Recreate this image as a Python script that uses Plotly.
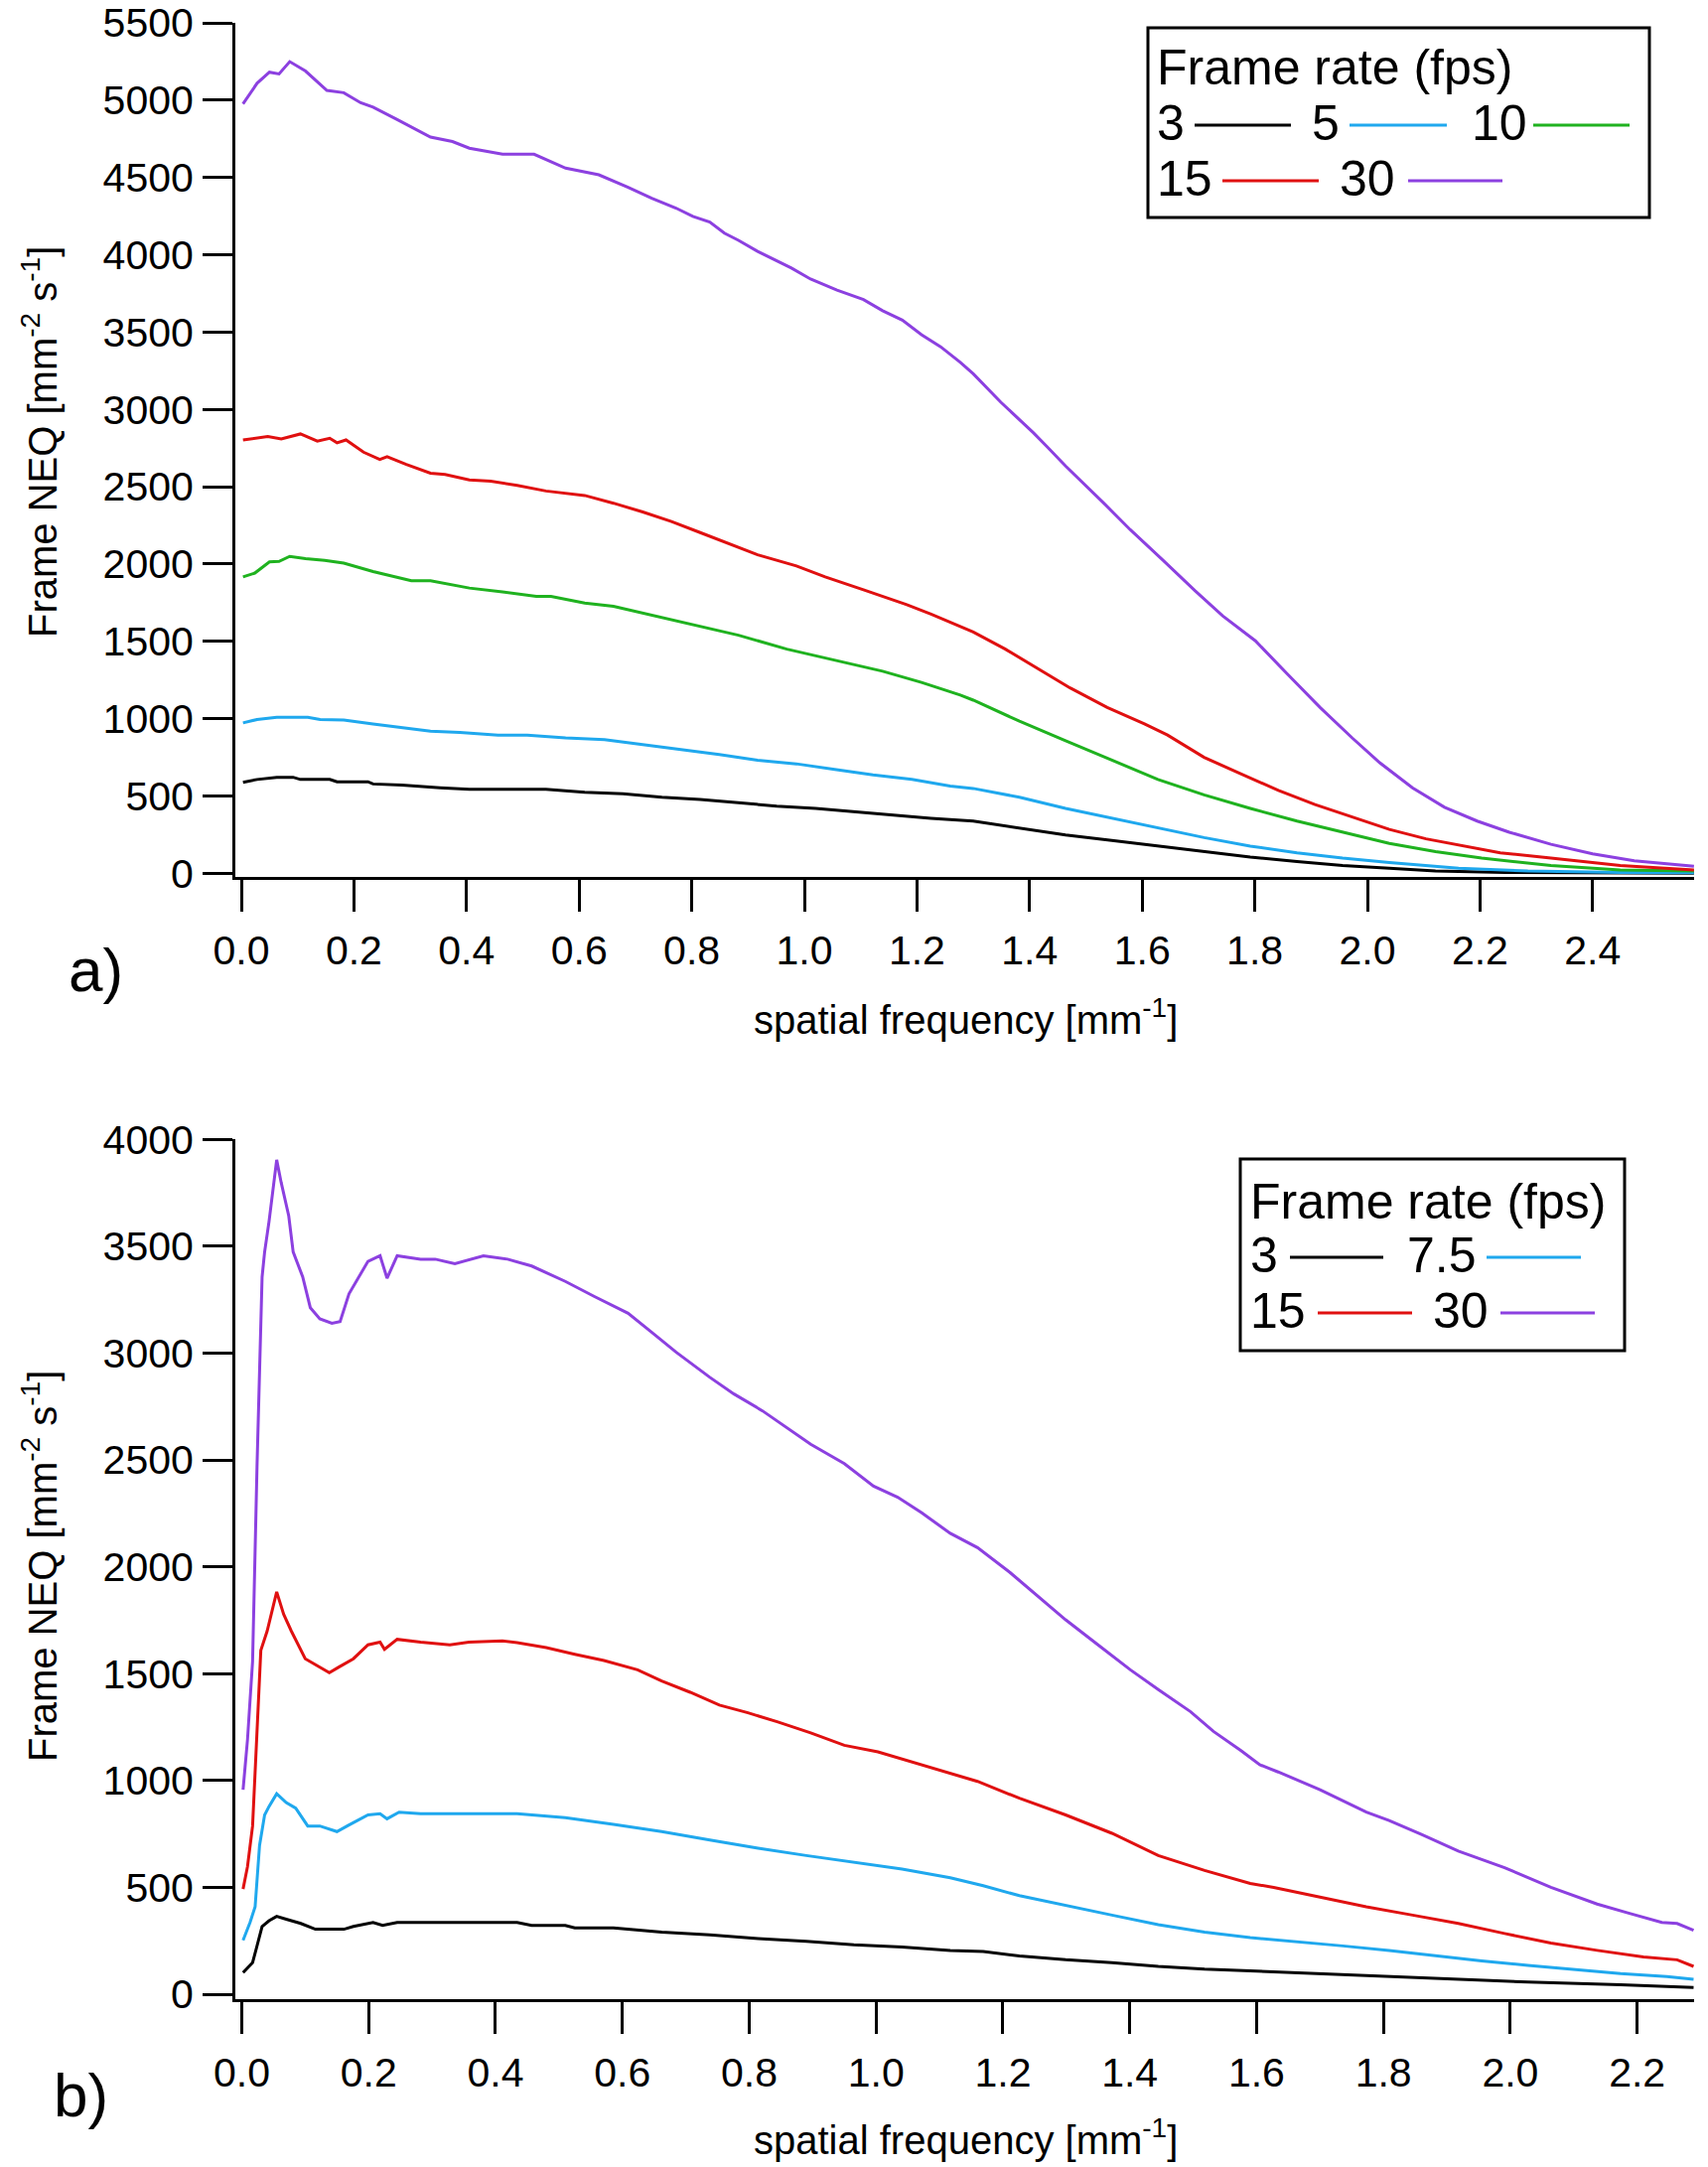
import plotly.graph_objects as go

# ---------------- data: panel a ----------------
a3_x = [0.003, 0.028, 0.063, 0.092, 0.105, 0.157, 0.170, 0.225, 0.234, 0.285, 0.353, 0.405, 0.541, 0.610, 0.678,
        0.747, 0.815, 0.883, 0.951, 1.020, 1.088, 1.156, 1.225, 1.300, 1.382, 1.464, 1.546, 1.628, 1.710, 1.792,
        1.875, 1.956, 2.039, 2.121, 2.244, 2.400, 2.580]
a3_y = [588, 606, 620, 620, 606, 606, 591, 591, 577, 570, 552, 542, 542, 524, 513,
        491, 477, 455, 434, 419, 398, 380, 355, 337, 290, 247, 212, 175, 139, 104,
        75, 50, 32, 14, 4, 2, 0]

a5_x = [0.003, 0.028, 0.063, 0.118, 0.140, 0.182, 0.234, 0.276, 0.336, 0.388, 0.456, 0.508, 0.576, 0.645, 0.713,
        0.781, 0.849, 0.917, 0.986, 1.054, 1.122, 1.191, 1.259, 1.300, 1.382, 1.464, 1.546, 1.628, 1.710, 1.792,
        1.875, 1.956, 2.039, 2.162, 2.285, 2.449, 2.580]
a5_y = [972, 994, 1008, 1008, 994, 990, 965, 947, 918, 911, 893, 893, 875, 864, 832,
        803, 767, 731, 707, 671, 635, 606, 563, 548, 491, 419, 355, 290, 230, 175,
        132, 97, 68, 32, 14, 4, 3]

a10_x = [0.003, 0.024, 0.050, 0.067, 0.086, 0.114, 0.148, 0.182, 0.234, 0.302, 0.336, 0.405, 0.464, 0.524, 0.550,
         0.610, 0.661, 0.713, 0.798, 0.883, 0.969, 1.054, 1.139, 1.208, 1.277, 1.300, 1.382, 1.464, 1.546, 1.628,
         1.710, 1.792, 1.875, 1.956, 2.039, 2.121, 2.203, 2.326, 2.449, 2.580]
a10_y = [1916, 1941, 2013, 2016, 2049, 2034, 2023, 2005, 1951, 1891, 1891, 1844, 1819, 1790, 1790,
         1747, 1726, 1682, 1611, 1539, 1449, 1377, 1306, 1234, 1152, 1119, 983, 857, 731, 606,
         506, 419, 337, 265, 193, 139, 97, 50, 21, 14]

a15_x = [0.003, 0.047, 0.071, 0.105, 0.135, 0.157, 0.170, 0.186, 0.217, 0.246, 0.259, 0.293, 0.336, 0.362, 0.405,
         0.443, 0.490, 0.541, 0.610, 0.661, 0.713, 0.764, 0.815, 0.866, 0.917, 0.986, 1.037, 1.105, 1.182, 1.225,
         1.277, 1.300, 1.357, 1.415, 1.472, 1.538, 1.604, 1.645, 1.710, 1.776, 1.842, 1.907, 1.973, 2.039, 2.104,
         2.170, 2.236, 2.326, 2.449, 2.580]
a15_y = [2802, 2824, 2809, 2841, 2795, 2813, 2784, 2802, 2723, 2676, 2694, 2644, 2587, 2579, 2543,
         2536, 2508, 2472, 2443, 2393, 2336, 2274, 2203, 2131, 2059, 1987, 1916, 1833, 1737, 1675,
         1593, 1560, 1449, 1324, 1198, 1072, 965, 893, 749, 642, 535, 444, 362, 283, 222,
         175, 132, 97, 50, 21]

a30_x = [0.003, 0.028, 0.050, 0.067, 0.086, 0.114, 0.152, 0.182, 0.212, 0.234, 0.276, 0.336, 0.375, 0.405, 0.464,
         0.520, 0.576, 0.635, 0.686, 0.729, 0.772, 0.802, 0.832, 0.858, 0.883, 0.917, 0.977, 1.011, 1.058, 1.105,
         1.139, 1.174, 1.208, 1.242, 1.277, 1.300, 1.349, 1.407, 1.431, 1.464, 1.530, 1.579, 1.637, 1.694, 1.743,
         1.801, 1.858, 1.916, 1.973, 2.022, 2.080, 2.137, 2.195, 2.252, 2.326, 2.400, 2.474, 2.580]
a30_y = [4976, 5109, 5181, 5170, 5249, 5188, 5063, 5048, 4983, 4955, 4876, 4761, 4732, 4689, 4650,
         4650, 4560, 4517, 4438, 4366, 4302, 4248, 4212, 4140, 4093, 4022, 3914, 3843, 3771, 3710,
         3638, 3577, 3483, 3405, 3304, 3230, 3046, 2848, 2759, 2633, 2400, 2221, 2024, 1826, 1664,
         1503, 1288, 1072, 875, 714, 552, 426, 337, 265, 187, 125, 80, 45]

# ---------------- data: panel b ----------------
b3_x = [0.002, 0.017, 0.024, 0.032, 0.043, 0.055, 0.070, 0.093, 0.116, 0.161, 0.176, 0.207, 0.222, 0.245, 0.434,
        0.457, 0.510, 0.525, 0.586, 0.662, 0.738, 0.814, 0.890, 0.965, 1.041, 1.117, 1.169, 1.226, 1.299, 1.372,
        1.445, 1.518, 1.590, 1.736, 1.882, 2.028, 2.174, 2.289]
b3_y = [101, 148, 226, 317, 344, 364, 351, 331, 304, 304, 317, 336, 322, 336, 336,
        322, 322, 310, 310, 291, 278, 260, 247, 231, 221, 205, 200, 179, 161, 148,
        130, 117, 109, 91, 75, 57, 44, 31]

b75_x = [0.002, 0.013, 0.021, 0.028, 0.036, 0.043, 0.055, 0.070, 0.085, 0.104, 0.123, 0.150, 0.169, 0.199, 0.218,
         0.229, 0.248, 0.282, 0.434, 0.510, 0.586, 0.662, 0.738, 0.814, 0.890, 0.965, 1.041, 1.117, 1.169, 1.226,
         1.299, 1.372, 1.445, 1.518, 1.590, 1.663, 1.736, 1.809, 1.882, 1.955, 2.028, 2.100, 2.174, 2.247, 2.289]
b75_y = [252, 336, 409, 696, 839, 879, 938, 897, 871, 787, 787, 761, 792, 839, 845,
         821, 852, 845, 845, 826, 795, 761, 722, 683, 649, 618, 586, 545, 508, 461,
         414, 370, 325, 291, 265, 247, 226, 205, 179, 156, 135, 117, 96, 83, 70]

b15_x = [0.002, 0.009, 0.017, 0.023, 0.030, 0.040, 0.055, 0.066, 0.078, 0.100, 0.116, 0.138, 0.153, 0.176, 0.199,
         0.218, 0.225, 0.245, 0.282, 0.328, 0.358, 0.411, 0.434, 0.480, 0.525, 0.571, 0.624, 0.662, 0.707, 0.753,
         0.798, 0.844, 0.897, 0.950, 1.003, 1.057, 1.110, 1.160, 1.226, 1.299, 1.372, 1.445, 1.518, 1.590, 1.627,
         1.700, 1.773, 1.846, 1.918, 1.991, 2.064, 2.137, 2.210, 2.263, 2.289]
b15_y = [492, 597, 787, 1165, 1609, 1700, 1883, 1778, 1700, 1570, 1544, 1505, 1531, 1570, 1635,
         1648, 1614, 1661, 1648, 1635, 1648, 1653, 1645, 1622, 1591, 1562, 1518, 1466, 1413, 1353,
         1317, 1275, 1223, 1165, 1134, 1087, 1040, 996, 917, 839, 753, 649, 579, 518, 500,
         456, 409, 370, 331, 284, 239, 205, 174, 161, 130]

b30_x = [0.002, 0.009, 0.017, 0.024, 0.032, 0.036, 0.043, 0.055, 0.062, 0.074, 0.081, 0.096, 0.108, 0.123, 0.142,
         0.155, 0.169, 0.184, 0.199, 0.218, 0.229, 0.245, 0.282, 0.305, 0.336, 0.381, 0.419, 0.457, 0.510, 0.556,
         0.609, 0.647, 0.685, 0.738, 0.776, 0.821, 0.852, 0.897, 0.950, 0.996, 1.034, 1.072, 1.117, 1.160, 1.211,
         1.262, 1.299, 1.350, 1.401, 1.445, 1.496, 1.532, 1.576, 1.605, 1.634, 1.700, 1.773, 1.809, 1.860, 1.918,
         1.991, 2.064, 2.137, 2.188, 2.239, 2.263, 2.289]
b30_y = [957, 1191, 1557, 2470, 3357, 3474, 3617, 3905, 3800, 3643, 3474, 3357, 3213, 3161, 3140,
         3148, 3278, 3357, 3430, 3456, 3351, 3456, 3440, 3440, 3419, 3456, 3440, 3408, 3336, 3265,
         3187, 3096, 3004, 2887, 2809, 2730, 2665, 2574, 2483, 2378, 2326, 2253, 2157, 2090, 1974,
         1844, 1752, 1635, 1518, 1426, 1322, 1230, 1139, 1074, 1040, 957, 852, 813, 748, 670,
         592, 500, 422, 378, 336, 331, 299]

# ---------------- labels ----------------
legend_a = ["3", "5", "10", "15", "30"]
legend_b = ["3", "7.5", "15", "30"]
xticks_a = [0.0, 0.2, 0.4, 0.6, 0.8, 1.0, 1.2, 1.4, 1.6, 1.8, 2.0, 2.2, 2.4]
xticks_b = [0.0, 0.2, 0.4, 0.6, 0.8, 1.0, 1.2, 1.4, 1.6, 1.8, 2.0, 2.2]
yticks_a = list(range(0, 5501, 500))
yticks_b = list(range(0, 4001, 500))

BLACK = "#000000"
BLUE = "#1fa8ee"
GREEN = "#1fb21f"
RED = "#e01010"
PURPLE = "#8c40e0"

W, H = 1720, 2182
FONT = "Arial, Liberation Sans, sans-serif"


def px(X):
    return X / W


def py(Y):
    return 1 - Y / H


fig = go.Figure()
LW = 3
series_a = [(a3_x, a3_y, BLACK), (a5_x, a5_y, BLUE), (a10_x, a10_y, GREEN), (a15_x, a15_y, RED), (a30_x, a30_y, PURPLE)]
for (xs, ys, c), name in zip(series_a, legend_a):
    fig.add_trace(go.Scatter(x=xs, y=ys, mode="lines", line=dict(color=c, width=LW), name=name,
                             xaxis="x", yaxis="y", showlegend=False))
series_b = [(b3_x, b3_y, BLACK), (b75_x, b75_y, BLUE), (b15_x, b15_y, RED), (b30_x, b30_y, PURPLE)]
for (xs, ys, c), name in zip(series_b, legend_b):
    fig.add_trace(go.Scatter(x=xs, y=ys, mode="lines", line=dict(color=c, width=LW), name=name,
                             xaxis="x2", yaxis="y2", showlegend=False))

axis_common = dict(showgrid=False, zeroline=False, showline=True, linecolor="black", linewidth=3,
                   ticks="outside", tickcolor="black", tickwidth=2.5, automargin=False,
                   ticklabeloverflow="allow",
                   tickfont=dict(family=FONT, size=41, color="black"))

TOP_A = 23.0
ZERO_A = 879.2
SCALE_A = (ZERO_A - TOP_A) / 5500

fig.update_layout(
    width=W, height=H, margin=dict(l=0, r=0, t=0, b=0, autoexpand=False),
    paper_bgcolor="white", plot_bgcolor="white", showlegend=False,
    xaxis=dict(domain=[px(237), px(1706)], range=[-6 / 567, (1706 - 243) / 567], anchor="y",
               tickvals=xticks_a, tickformat=".1f", ticklen=32, ticklabelstandoff=4, **axis_common),
    yaxis=dict(domain=[py(883), py(TOP_A)], range=[-(883 - ZERO_A) / SCALE_A, 5500], anchor="x",
               tickvals=yticks_a, tickformat="d", ticklen=30, ticklabelstandoff=1, **axis_common),
    xaxis2=dict(domain=[px(237), px(1706)], range=[-6.5 / 638.7, (1706 - 243.5) / 638.7], anchor="y2",
                tickvals=xticks_b, tickformat=".1f", ticklen=32, ticklabelstandoff=4, **axis_common),
    yaxis2=dict(domain=[py(2013), py(1147.4)], range=[-(2013 - 2008) / 0.21513, 4000], anchor="x2",
                tickvals=yticks_b, tickformat="d", ticklen=30, ticklabelstandoff=1, **axis_common),
)

annotations = []
shapes = []


def text(X, Y, s, size=40, anchor="left", angle=0):
    annotations.append(dict(x=px(X), y=py(Y), xref="paper", yref="paper", text=s, showarrow=False,
                            xanchor=anchor, yanchor="middle", textangle=angle,
                            font=dict(family=FONT, size=size, color="black")))


# axis titles
text(972, 1024, "spatial frequency [mm<sup>-1</sup>]", anchor="center")
text(972, 2152, "spatial frequency [mm<sup>-1</sup>]", anchor="center")
text(40, 445, "Frame NEQ [mm<sup>-2</sup> s<sup>-1</sup>]", anchor="center", angle=-90)
text(40, 1577, "Frame NEQ [mm<sup>-2</sup> s<sup>-1</sup>]", anchor="center", angle=-90)
# panel labels
text(96, 976, "a)", size=62, anchor="center")
text(81, 2109, "b)", size=62, anchor="center")


def legend_box(x0, y0, x1, y1):
    shapes.append(dict(type="rect", xref="paper", yref="paper", x0=px(x0), x1=px(x1), y0=py(y0), y1=py(y1),
                       line=dict(color="black", width=3), fillcolor="white", layer="above"))


def legend_item(tx, ty, label, lx0, lx1, color):
    text(tx, ty, label, size=50)
    shapes.append(dict(type="line", xref="paper", yref="paper", x0=px(lx0), x1=px(lx1), y0=py(ty + 2), y1=py(ty + 2),
                       line=dict(color=color, width=3), layer="above"))


# legend a
legend_box(1156, 28, 1661, 219)
text(1163, 68, "Frame rate (fps)", size=50)
legend_item(1163, 124, legend_a[0], 1203, 1300, BLACK)
legend_item(1319, 124, legend_a[1], 1359, 1457, BLUE)
legend_item(1480, 124, legend_a[2], 1544, 1641, GREEN)
legend_item(1163, 180, legend_a[3], 1231, 1328, RED)
legend_item(1347, 180, legend_a[4], 1418, 1513, PURPLE)

# legend b
legend_box(1249, 1167, 1636, 1360)
text(1257, 1210, "Frame rate (fps)", size=50)
legend_item(1257, 1264, legend_b[0], 1299, 1393, BLACK)
legend_item(1415, 1264, legend_b[1], 1497, 1592, BLUE)
legend_item(1257, 1320, legend_b[2], 1327, 1422, RED)
legend_item(1441, 1320, legend_b[3], 1511, 1606, PURPLE)

fig.update_layout(annotations=annotations, shapes=shapes)
fig.write_html("out.html")
